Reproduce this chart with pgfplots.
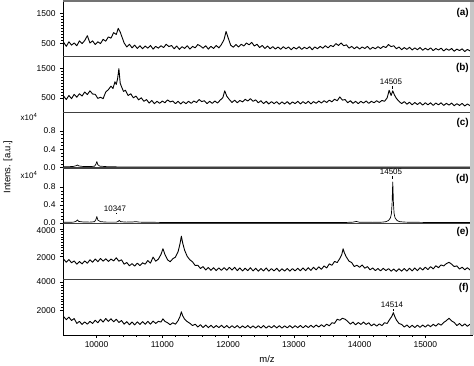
\documentclass[border=0pt]{standalone}
\usepackage{fontspec}
\setmainfont{Liberation Sans}
\usepackage{pgfplots}
\pgfplotsset{compat=1.18}
\pgfplotsset{
  panel/.style={scale only axis, width=409bp, height=55.7bp,
    xmin=9490, xmax=15710, anchor=south west,
    axis line style={line width=0.5pt},
    ytick pos=left, xtick pos=bottom, tick align=outside,
    major tick length=3bp, minor tick length=1.6bp,
    every tick/.style={black, line width=0.4pt},
    xtick=\empty, scaled ticks=false,
    /pgf/number format/assume math mode=true,
    /pgf/number format/1000 sep={},
    tick label style={font=\fontsize{8.5}{10}\selectfont},
    yticklabel style={xshift=-1bp},
  },
  spec/.style={black, line width=0.9pt, line join=round, mark=none},
  decimals/.style={yticklabel style={/pgf/number format/fixed, /pgf/number format/fixed zerofill, /pgf/number format/precision=1}},
}
\begin{document}
\begin{tikzpicture}
\useasboundingbox (0,0) rectangle (474bp,366bp);
% ---------------- (a)
\begin{axis}[panel, at={(63bp,309.3bp)}, ymin=70, ymax=1900, ytick={500,1500}, minor y tick num=9]
\addplot[spec] coordinates {(9500,540)(9540,410)(9580,560)(9620,450)(9660,520)(9700,430)(9740,590)(9780,500)(9820,600)(9860,760)(9900,520)(9940,590)(9980,470)(10020,560)(10060,500)(10100,640)(10140,580)(10180,720)(10220,680)(10260,860)(10300,800)(10330,1000)(10360,880)(10390,700)(10420,520)(10460,390)(10500,480)(10540,360)(10580,450)(10620,340)(10660,430)(10700,330)(10740,420)(10780,350)(10820,440)(10860,320)(10900,410)(10940,350)(10980,430)(11020,370)(11060,480)(11100,400)(11140,440)(11180,330)(11220,420)(11260,310)(11300,400)(11340,340)(11380,430)(11420,320)(11460,410)(11500,360)(11540,470)(11580,420)(11620,350)(11660,430)(11700,320)(11740,410)(11780,340)(11820,440)(11860,360)(11900,470)(11940,640)(11970,900)(12000,700)(12040,450)(12080,380)(12120,470)(12160,390)(12200,480)(12240,420)(12280,520)(12320,460)(12360,540)(12400,420)(12440,480)(12480,370)(12520,440)(12560,340)(12600,420)(12640,330)(12680,400)(12720,320)(12760,390)(12800,310)(12840,400)(12880,330)(12920,390)(12960,300)(13000,380)(13040,320)(13080,400)(13120,310)(13160,380)(13200,330)(13240,400)(13280,300)(13320,390)(13360,330)(13400,410)(13440,350)(13480,430)(13520,360)(13560,440)(13600,400)(13640,500)(13680,440)(13720,520)(13760,430)(13800,460)(13840,350)(13880,410)(13920,330)(13960,400)(14000,320)(14040,390)(14080,340)(14120,410)(14160,310)(14200,380)(14240,330)(14280,400)(14320,340)(14360,410)(14400,370)(14440,470)(14480,400)(14520,430)(14560,330)(14600,390)(14640,300)(14680,370)(14720,310)(14760,380)(14800,290)(14840,360)(14880,300)(14920,370)(14960,280)(15000,350)(15040,290)(15080,360)(15120,270)(15160,340)(15200,290)(15240,350)(15280,260)(15320,330)(15360,280)(15400,340)(15440,250)(15480,320)(15520,270)(15560,330)(15600,240)(15640,310)(15680,260)(15700,300)};
\end{axis}
% ---------------- (b)
\begin{axis}[panel, at={(63bp,253.6bp)}, ymin=0, ymax=1910, ytick={500,1500}, minor y tick num=9]
\addplot[spec] coordinates {(9500,560)(9540,440)(9580,580)(9620,470)(9660,620)(9700,520)(9740,640)(9780,560)(9820,700)(9860,610)(9900,740)(9940,630)(9980,620)(10020,480)(10060,520)(10100,470)(10140,700)(10180,780)(10220,900)(10250,820)(10280,1050)(10300,960)(10320,1150)(10340,1500)(10360,1000)(10380,880)(10410,720)(10440,760)(10480,580)(10520,640)(10560,500)(10600,560)(10640,430)(10680,500)(10720,380)(10760,440)(10800,320)(10840,410)(10880,300)(10920,380)(10960,310)(11000,390)(11040,330)(11080,430)(11120,360)(11160,390)(11200,300)(11240,380)(11280,290)(11320,370)(11360,300)(11400,380)(11440,310)(11480,390)(11520,340)(11560,440)(11600,370)(11640,400)(11680,300)(11720,380)(11760,310)(11800,390)(11840,320)(11880,420)(11920,500)(11950,740)(11980,560)(12020,440)(12060,340)(12100,420)(12140,330)(12180,410)(12220,360)(12260,450)(12300,390)(12340,470)(12380,380)(12420,430)(12460,330)(12500,400)(12540,300)(12580,380)(12620,290)(12660,370)(12700,300)(12740,370)(12780,280)(12820,360)(12860,290)(12900,370)(12940,280)(12980,360)(13020,300)(13060,380)(13100,290)(13140,370)(13180,300)(13220,380)(13260,290)(13300,370)(13340,310)(13380,390)(13420,320)(13460,400)(13500,340)(13540,420)(13580,360)(13620,450)(13660,400)(13700,530)(13740,420)(13780,440)(13820,330)(13860,400)(13900,310)(13940,380)(13980,300)(14020,380)(14060,320)(14100,390)(14140,310)(14180,380)(14220,330)(14260,400)(14300,340)(14340,410)(14380,380)(14420,500)(14450,760)(14480,580)(14505,740)(14530,600)(14560,480)(14600,380)(14640,300)(14680,370)(14720,280)(14760,350)(14800,260)(14840,340)(14880,270)(14920,340)(14960,250)(15000,330)(15040,260)(15080,330)(15120,240)(15160,320)(15200,260)(15240,330)(15280,240)(15320,310)(15360,250)(15400,320)(15440,230)(15480,300)(15520,240)(15560,310)(15600,220)(15640,290)(15680,230)(15700,280)};
\end{axis}
% ---------------- (c)
\begin{axis}[panel, decimals, at={(63bp,198bp)}, ymin=-0.01, ymax=1.2, ytick={0,0.4,0.8}, minor y tick num=4]
\addplot[spec, line width=0.7pt] coordinates {(9490,0.02)(9600,0.02)(9650,0.025)(9690,0.04)(9710,0.055)(9730,0.035)(9780,0.025)(9850,0.022)(9920,0.022)(9970,0.03)(9990,0.07)(10005,0.13)(10020,0.06)(10050,0.03)(10150,0.02)(10300,0.015)(10600,0.012)(11000,0.01)(12000,0.012)(13000,0.01)(14000,0.012)(15000,0.01)(15710,0.01)};
\end{axis}
% ---------------- (d)
\begin{axis}[panel, decimals, at={(63bp,142.3bp)}, ymin=-0.01, ymax=1.23, ytick={0,0.4,0.8}, minor y tick num=4,
  yticklabel style={yshift=1bp}]
\addplot[spec, line width=0.7pt] coordinates {(9490,0.02)(9650,0.025)(9690,0.045)(9710,0.075)(9730,0.04)(9800,0.028)(9900,0.025)(9970,0.035)(9990,0.08)(10005,0.15)(10020,0.07)(10060,0.035)(10150,0.025)(10300,0.025)(10330,0.04)(10347,0.065)(10365,0.035)(10450,0.025)(10560,0.03)(10600,0.035)(10650,0.025)(11000,0.018)(12000,0.015)(13000,0.015)(13800,0.018)(13900,0.025)(13950,0.04)(14000,0.022)(14200,0.02)(14350,0.025)(14400,0.035)(14440,0.06)(14470,0.12)(14485,0.22)(14495,0.45)(14500,0.7)(14505,0.92)(14510,0.7)(14515,0.45)(14525,0.22)(14540,0.12)(14570,0.06)(14610,0.035)(14700,0.025)(15000,0.018)(15710,0.015)};
\end{axis}
% ---------------- (e)
\begin{axis}[panel, at={(63bp,86.7bp)}, ymin=260, ymax=4380, ytick={2000,4000}, minor y tick num=9,
  yticklabel style={yshift=-1.5bp}]
\addplot[spec] coordinates {(9500,1750)(9540,1520)(9580,1720)(9620,1480)(9660,1620)(9700,1380)(9740,1580)(9780,1400)(9820,1620)(9860,1450)(9900,1700)(9940,1520)(9980,1760)(10020,1560)(10060,1800)(10100,1600)(10140,1780)(10180,1580)(10220,1760)(10260,1620)(10300,1850)(10340,1600)(10380,1700)(10420,1380)(10460,1500)(10500,1260)(10540,1420)(10580,1240)(10620,1450)(10660,1270)(10700,1480)(10740,1380)(10780,1650)(10820,1460)(10860,1900)(10900,1600)(10940,1750)(10980,2100)(11010,2520)(11040,2100)(11080,1700)(11120,1560)(11160,1780)(11200,1900)(11240,2300)(11270,2900)(11290,3450)(11310,2950)(11340,2400)(11380,1950)(11420,1700)(11460,1550)(11500,1280)(11540,1300)(11580,1060)(11620,1200)(11660,950)(11700,1130)(11740,920)(11780,1120)(11820,900)(11860,1100)(11900,920)(11940,1120)(11980,930)(12020,1140)(12060,940)(12100,1150)(12140,900)(12180,1100)(12220,880)(12260,1080)(12300,900)(12340,1120)(12380,880)(12420,1080)(12460,860)(12500,1060)(12540,880)(12580,1100)(12620,860)(12660,1050)(12700,880)(12740,1080)(12780,850)(12820,1040)(12860,870)(12900,1060)(12940,860)(12980,1050)(13020,880)(13060,1080)(13100,890)(13140,1100)(13180,900)(13220,1120)(13260,920)(13300,1150)(13340,960)(13380,1180)(13420,1000)(13460,1250)(13500,1100)(13540,1400)(13580,1300)(13620,1580)(13660,1500)(13700,1800)(13730,2100)(13750,2520)(13770,2200)(13800,1900)(13840,1600)(13880,1500)(13920,1200)(13960,1300)(14000,1150)(14040,1320)(14080,1080)(14120,1200)(14160,960)(14200,1100)(14240,900)(14280,1060)(14320,880)(14360,1080)(14400,900)(14440,1050)(14480,860)(14520,1020)(14560,840)(14600,1040)(14640,860)(14680,1060)(14720,870)(14760,1080)(14800,880)(14840,1100)(14880,900)(14920,1120)(14960,950)(15000,1150)(15040,980)(15080,1200)(15120,1030)(15160,1260)(15200,1120)(15240,1320)(15280,1250)(15320,1420)(15360,1520)(15400,1380)(15440,1200)(15480,1250)(15520,1020)(15560,1150)(15600,960)(15640,1120)(15680,950)(15700,1080)};
\end{axis}
% ---------------- (f)
\begin{axis}[panel, at={(63bp,31bp)}, ymin=230, ymax=4190, ytick={2000,4000}, minor y tick num=9,
  xtick={10000,11000,12000,13000,14000,15000}, minor x tick num=4]
\addplot[spec] coordinates {(9500,1540)(9540,1320)(9580,1500)(9620,1260)(9660,1400)(9700,1050)(9740,1200)(9780,980)(9820,1160)(9860,1000)(9900,1200)(9940,1050)(9980,1280)(10020,1100)(10060,1350)(10100,1150)(10140,1400)(10180,1200)(10220,1380)(10260,1170)(10300,1350)(10340,1120)(10380,1260)(10420,1000)(10460,1180)(10500,960)(10540,1150)(10580,950)(10620,1160)(10660,980)(10700,1180)(10740,990)(10780,1200)(10820,1000)(10860,1220)(10900,1050)(10940,1200)(10980,1150)(11010,1380)(11040,1200)(11080,1100)(11120,960)(11160,1100)(11200,1000)(11240,1250)(11270,1550)(11290,1880)(11310,1600)(11340,1350)(11380,1180)(11420,1060)(11460,900)(11500,1000)(11540,800)(11580,960)(11620,760)(11660,940)(11700,750)(11740,920)(11780,740)(11820,900)(11860,760)(11900,920)(11940,740)(11980,900)(12020,730)(12060,890)(12100,740)(12140,900)(12180,720)(12220,880)(12260,740)(12300,900)(12340,730)(12380,880)(12420,720)(12460,890)(12500,730)(12540,900)(12580,720)(12620,880)(12660,740)(12700,900)(12740,730)(12780,890)(12820,720)(12860,880)(12900,740)(12940,900)(12980,730)(13020,890)(13060,750)(13100,910)(13140,740)(13180,900)(13220,760)(13260,920)(13300,770)(13340,940)(13380,800)(13420,960)(13460,820)(13500,1000)(13540,880)(13580,1100)(13620,1060)(13660,1350)(13700,1280)(13740,1420)(13780,1350)(13820,1200)(13860,1000)(13900,1150)(13940,950)(13980,1120)(14020,980)(14060,1150)(14100,980)(14140,1100)(14180,880)(14220,1020)(14260,860)(14300,1020)(14340,900)(14380,1100)(14420,1050)(14460,1350)(14490,1550)(14514,1820)(14535,1550)(14560,1300)(14600,1050)(14640,980)(14680,800)(14720,940)(14760,760)(14800,920)(14840,760)(14880,930)(14920,770)(14960,940)(15000,790)(15040,960)(15080,820)(15120,990)(15160,860)(15200,1040)(15240,930)(15280,1120)(15320,1250)(15360,1420)(15400,1230)(15440,1120)(15480,900)(15520,1050)(15560,860)(15600,1020)(15640,850)(15680,1000)(15700,900)};
\end{axis}
% frame details
\fill[black!22] (470bp,31bp) rectangle (474bp,366bp);
\draw[line width=2.2pt, black!55] (63bp,365bp) -- (474bp,365bp);
\foreach \yy in {86.7,142.3,198,253.6,309.3}
  \draw[line width=1.5pt, black!75] (63bp,\yy bp) -- (470bp,\yy bp);
% panel letters
\begin{scope}[every node/.style={anchor=east, font=\fontsize{10}{12}\selectfont\bfseries, inner sep=0pt}]
\node at (469bp,353bp) {(a)};
\node at (469bp,298bp) {(b)};
\node at (469bp,243bp) {(c)};
\node at (469bp,187bp) {(d)};
\node at (469bp,134bp) {(e)};
\node at (469bp,78bp) {(f)};
\end{scope}
% annotations
\begin{scope}[every node/.style={font=\fontsize{8}{9}\selectfont, inner sep=0pt}]
\node at (391bp,284bp) {14505};
\draw[line width=0.4pt] (392.5bp,280bp) -- (392.5bp,277bp);
\node at (391bp,194bp) {14505};
\draw[line width=0.4pt] (392.5bp,190bp) -- (392.5bp,187bp);
\node at (115bp,157bp) {10347};
\draw[line width=0.4pt] (116bp,153bp) -- (116bp,152bp);
\node at (392bp,61bp) {14514};
\draw[line width=0.4pt] (393.5bp,57bp) -- (393.5bp,55bp);
\node at (29bp,249bp) {x10\textsuperscript{4}};
\node at (29bp,191bp) {x10\textsuperscript{4}};
\end{scope}
\node[rotate=90, font=\fontsize{9.5}{11}\selectfont, inner sep=0pt] at (8bp,199bp) {Intens. [a.u.]};
\node[font=\fontsize{9.5}{11}\selectfont, inner sep=0pt] at (267bp,7bp) {m/z};
\end{tikzpicture}
\end{document}
